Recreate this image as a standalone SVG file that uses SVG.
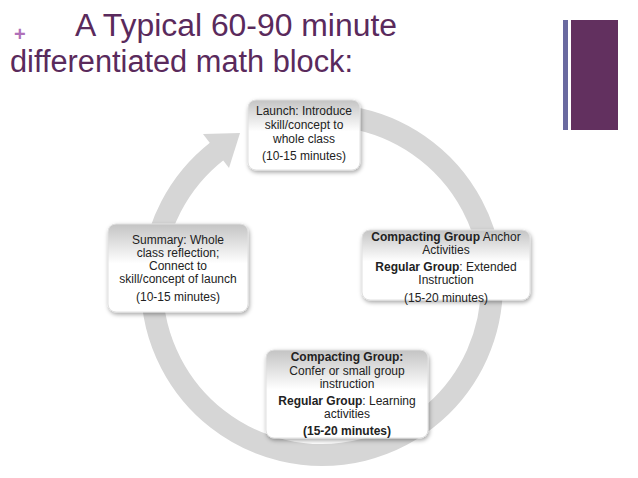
<svg xmlns="http://www.w3.org/2000/svg" width="638" height="478" viewBox="0 0 638 478">
<defs>
<linearGradient id="bg" x1="0" y1="0" x2="0" y2="1"><stop offset="0" stop-color="#c4c4c4"/><stop offset="0.45" stop-color="#ffffff"/><stop offset="1" stop-color="#ffffff"/></linearGradient>
<filter id="sh" x="-10%" y="-10%" width="130%" height="130%"><feDropShadow dx="1" dy="2" stdDeviation="2" flood-color="#000" flood-opacity="0.35"/></filter>
<style>
.box{fill:url(#bg);stroke:#e0e0e0;stroke-width:1;filter:url(#sh)}
.t{font-family:"Liberation Sans",Arial,sans-serif;font-size:12px;fill:#222;text-anchor:middle}
.b{font-weight:bold}
.title{font-family:"Liberation Sans",Arial,sans-serif;font-size:31px;fill:#5a2a5c}
</style>
</defs>
<rect width="638" height="478" fill="#fff"/>
<text x="14" y="41" font-family="Liberation Sans,sans-serif" font-size="20" font-weight="bold" fill="#b070b8">+</text>
<text class="title" x="75" y="36" textLength="322" lengthAdjust="spacingAndGlyphs">A Typical 60-90 minute</text>
<text class="title" x="10" y="72" textLength="343" lengthAdjust="spacingAndGlyphs">differentiated math block:</text>
<rect x="563" y="20" width="5" height="110" fill="#6a6aa0"/>
<rect x="571" y="20" width="47" height="110" fill="#62305f"/>
<g id="connectors">
<path d="M351.5,117.6 A170,170 0 1 1 217.3,151" fill="none" stroke="#d6d6d6" stroke-width="22"/>
<polygon points="240,133 203,134 229,168" fill="#d6d6d6"/>
</g>
<g id="launch">
<rect class="box" x="248" y="100" width="112" height="70" rx="8"/>
<text class="t" x="304" y="115">Launch: Introduce</text>
<text class="t" x="304" y="129">skill/concept  to</text>
<text class="t" x="304" y="143">whole class</text>
<text class="t" x="304" y="160">(10-15 minutes)</text>
</g>
<g id="compacting-anchor">
<rect class="box" x="362" y="230" width="168" height="70" rx="8"/>
<text class="t" x="446" y="241"><tspan class="b">Compacting Group</tspan> Anchor</text>
<text class="t" x="446" y="254">Activities</text>
<text class="t" x="446" y="271"><tspan class="b">Regular Group</tspan>: Extended</text>
<text class="t" x="446" y="284">Instruction</text>
<text class="t" x="446" y="302">(15-20 minutes)</text>
</g>
<g id="compacting-confer">
<rect class="box" x="266" y="350" width="162" height="88" rx="8"/>
<text class="t b" x="347" y="361">Compacting Group:</text>
<text class="t" x="347" y="375">Confer or small group</text>
<text class="t" x="347" y="388">instruction</text>
<text class="t" x="347" y="405"><tspan class="b">Regular Group</tspan>: Learning</text>
<text class="t" x="347" y="418">activities</text>
<text class="t b" x="347" y="435">(15-20 minutes)</text>
</g>
<g id="summary">
<rect class="box" x="108" y="224" width="140" height="88" rx="8"/>
<text class="t" x="178" y="244">Summary: Whole</text>
<text class="t" x="178" y="257">class reflection;</text>
<text class="t" x="178" y="270">Connect to</text>
<text class="t" x="178" y="283">skill/concept of launch</text>
<text class="t" x="178" y="301">(10-15 minutes)</text>
</g>
</svg>
